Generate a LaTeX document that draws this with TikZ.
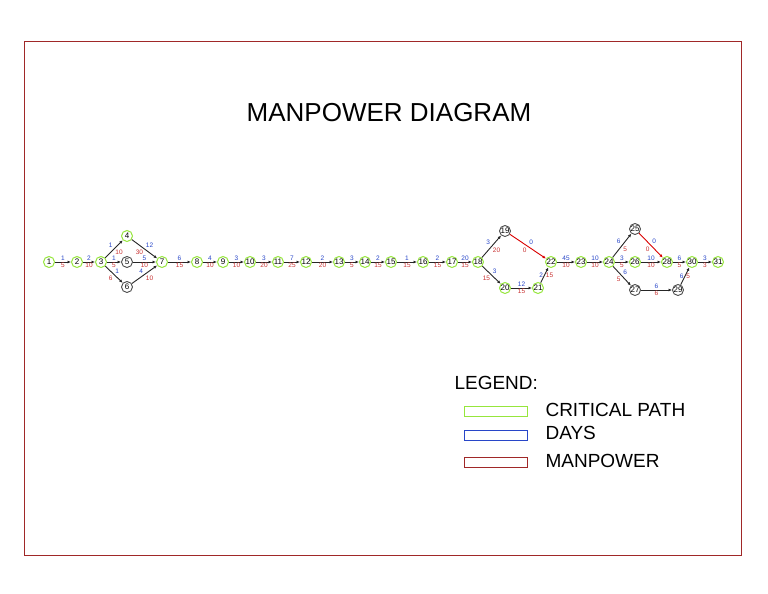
\documentclass[tikz,border=0pt]{standalone}
\usepackage{fontspec}
\setmainfont{Liberation Sans}
\usetikzlibrary{arrows.meta}
\definecolor{crit}{RGB}{150,230,60}
\definecolor{dayc}{RGB}{40,70,200}
\definecolor{mpc}{RGB}{200,50,50}
\tikzset{
 cn/.style={circle,draw=crit,line width=1pt,fill=white,inner sep=0pt,minimum size=11pt,font=\fontsize{8}{8}\selectfont},
 gn/.style={circle,draw=black!70,line width=0.9pt,fill=white,inner sep=0pt,minimum size=11pt,font=\fontsize{8}{8}\selectfont},
 ed/.style={-{Latex[length=3.5pt,width=3pt]},line width=0.9pt,black!85},
 red/.style={-{Latex[length=3.5pt,width=3pt]},line width=0.9pt,red!85!black},
 dl/.style={text=dayc,font=\fontsize{6.5}{6.5}\selectfont,inner sep=1pt},
 ml/.style={text=mpc,font=\fontsize{6.5}{6.5}\selectfont,inner sep=1pt},
 lgt/.style={anchor=west,font=\fontsize{19}{20}\selectfont}
}
\newcommand{\ed}[5][ed]{\draw[#1] (#2) -- node[dl,above]{#4} node[ml,below]{#5} (#3);}
\newcommand{\edd}[7][ed]{\draw[#1] (#2) -- node[dl,#6]{#4} node[ml,#7]{#5} (#3);}
\begin{document}
\begin{tikzpicture}[x=1pt,y=-1pt]
\useasboundingbox (0,0) rectangle (768,594);
\draw[mpc!80!black,line width=0.6pt] (24,41) rectangle (741,555);
\node[font=\fontsize{26}{27}\selectfont] (title) at (389,113) {MANPOWER DIAGRAM};
\foreach \n/\x/\y/\s in {1/49/262/cn,2/77/262/cn,3/101/262/cn,4/127/236/cn,5/127/262/gn,6/127/287/gn,7/162/262/cn,8/197/262/cn,9/223/262/cn,10/250/262/cn,11/278/262/cn,12/306/262/cn,13/339/262/cn,14/365/262/cn,15/391/262/cn,16/423/262/cn,17/452/262/cn,18/478/262/cn,19/505/231/gn,20/505/288/cn,21/538/288/cn,22/551/262/cn,23/581/262/cn,24/609/262/cn,25/635/229/gn,26/635/262/cn,27/635/290/gn,28/667/262/cn,29/678/290/gn,30/692/262/cn,31/718/262/cn}
  \node[\s] (n\n) at (\x,\y) {\n};
\ed{n1}{n2}{1}{5}
\ed{n2}{n3}{2}{10}
\edd{n3}{n4}{1}{10}{above left}{below right}
\ed{n3}{n5}{1}{5}
\edd{n3}{n6}{1}{6}{above right}{below left}
\edd{n4}{n7}{12}{30}{above right}{below left}
\ed{n5}{n7}{5}{10}
\edd{n6}{n7}{4}{10}{above left}{below right}
\ed{n7}{n8}{6}{15}
\ed{n8}{n9}{4}{10}
\ed{n9}{n10}{3}{10}
\ed{n10}{n11}{3}{20}
\ed{n11}{n12}{7}{25}
\ed{n12}{n13}{2}{20}
\ed{n13}{n14}{3}{5}
\ed{n14}{n15}{2}{15}
\ed{n15}{n16}{1}{15}
\ed{n16}{n17}{2}{15}
\ed{n17}{n18}{20}{15}
\edd{n18}{n19}{3}{20}{above left}{below right}
\edd{n18}{n20}{3}{15}{above right}{below left}
\edd[red]{n19}{n22}{0}{0}{above right}{below left}
\ed{n20}{n21}{12}{15}
\edd{n21}{n22}{2}{15}{left}{right}
\ed{n22}{n23}{45}{10}
\ed{n23}{n24}{10}{10}
\edd{n24}{n25}{6}{5}{above left}{below right}
\ed{n24}{n26}{3}{5}
\edd{n24}{n27}{6}{5}{above right}{below left}
\edd[red]{n25}{n28}{0}{0}{above right}{below left}
\ed{n26}{n28}{10}{10}
\ed{n27}{n29}{6}{6}
\ed{n28}{n30}{6}{5}
\edd{n29}{n30}{6}{5}{left}{right}
\ed{n30}{n31}{3}{3}
\node[lgt] (lg) at (451,383) {LEGEND:};
\draw[crit,line width=0.8pt] (464,406) rectangle (527,416);
\draw[dayc,line width=0.8pt] (464,430) rectangle (527,440);
\draw[mpc!80!black,line width=0.8pt] (464,457) rectangle (527,467);
\node[lgt] (l1) at (542,410) {CRITICAL PATH};
\node[lgt] (l2) at (542,433) {DAYS};
\node[lgt] (l3) at (542,461) {MANPOWER};
\end{tikzpicture}
\end{document}
